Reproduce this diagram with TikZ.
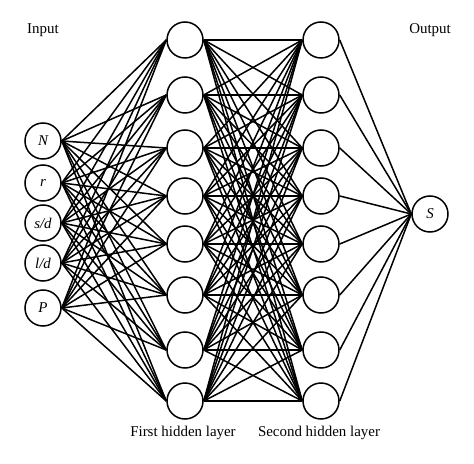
\documentclass[tikz,border=0pt]{standalone}
\usepackage{fontspec}
\setmainfont{Liberation Serif}
\begin{document}
\begin{tikzpicture}[x=1bp,y=-1bp,
  neuron/.style={circle,draw=black,line width=1.5bp,minimum size=36bp,inner sep=0pt,fill=white,font=\fontsize{15}{18}\selectfont\itshape},
  link/.style={draw=black,line width=1.5bp},
  lbl/.style={font=\fontsize{15}{18}\selectfont,inner sep=0pt}]
\useasboundingbox (0,0) rectangle (474,464);
\fill[white] (0,0) rectangle (474,464);
% input layer
\node[neuron] (i1) at (43,141) {N};
\node[neuron] (i2) at (43,183) {r};
\node[neuron] (i3) at (43,223) {s/d};
\node[neuron] (i4) at (43,263) {l/d};
\node[neuron] (i5) at (43,308) {P};
% hidden layers
\foreach \k/\y in {1/40,2/95,3/148,4/196,5/244,6/295,7/350,8/401}{
  \node[neuron] (a\k) at (185,\y) {};
  \node[neuron] (b\k) at (321,\y) {};
}
\node[neuron] (o) at (430,214) {S};
% connections
\foreach \i in {1,...,5}{
  \foreach \k in {1,...,8}{
    \draw[link] (i\i.east) -- (a\k.west);
  }
}
\foreach \j in {1,...,8}{
  \foreach \k in {1,...,8}{
    \draw[link] (a\j.east) -- (b\k.west);
  }
  \draw[link] (b\j.east) -- (o.west);
}
% labels
\node[lbl] (tin) at (43,30) {Input};
\node[lbl] (tout) at (430,30) {Output};
\node[lbl] (t1) at (183,433) {First hidden layer};
\node[lbl] (t2) at (319,433) {Second hidden layer};
\end{tikzpicture}
\end{document}
